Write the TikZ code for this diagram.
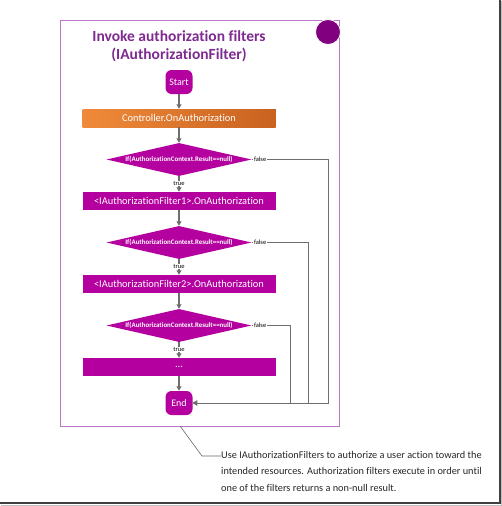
\documentclass[tikz,border=0pt]{standalone}
\usepackage{fontspec}
\setmainfont{Carlito}[Ligatures=NoCommon]
\usetikzlibrary{arrows.meta,positioning,shapes.geometric,chains}
\definecolor{filtermagenta}{HTML}{B4009E}
\definecolor{titlepurple}{HTML}{7E2A90}
\definecolor{panelpurple}{HTML}{B878C6}
\definecolor{badgepurple}{HTML}{800080}
\definecolor{flowgray}{HTML}{6E6E6E}
\definecolor{ctrlorange}{HTML}{F08A3A}
\definecolor{ctrldark}{HTML}{C8621F}

\begin{document}
\begin{tikzpicture}[%
    x=1pt, y=-1pt,              % work in pixels of the reference
    >={Triangle[length=4.5pt,width=5pt]},
    start chain=going below,    % the flow runs top to bottom
    node distance=41.5pt,       % centre to centre, boxes are on grid
    every join/.style={flow},
    ]

\tikzset{
  base/.style={on grid, on chain, align=center, text=white, inner sep=0pt},
  proc/.style={base, rectangle, minimum width=193pt, minimum height=18pt,
    fill=filtermagenta, font=\fontsize{10.4}{12}\selectfont},
  ctrl/.style={proc, left color=ctrlorange, right color=ctrldark},
  test/.style={base, diamond, aspect=4.4, minimum width=145pt, minimum height=33pt,
    fill=filtermagenta, font=\bfseries\fontsize{6.9}{8}\selectfont},
  term/.style={base, rectangle, rounded corners=6pt, minimum width=27pt,
    minimum height=24pt, fill=filtermagenta, font=\fontsize{10}{12}\selectfont},
  % labels sitting on the connectors
  lbl/.style={fill=white, inner sep=0.6pt, font=\fontsize{6.5}{7}\selectfont},
  % -------------------------------------------------
  flow/.style={->, draw=flowgray, line width=1.1pt},
  back/.style={->, draw=flowgray, line width=0.7pt},
  callout/.style={draw=black!60, line width=0.6pt},
  title/.style={align=center, text=titlepurple, font=\bfseries\fontsize{15.5}{18}\selectfont}
}

  \useasboundingbox (0,0) rectangle (502,506);

  % panel and its badge
  \draw [panelpurple, line width=1pt] (60,20) rectangle (339,426);
  \node [circle, fill=badgepurple, draw=white, line width=0.8pt, minimum size=25pt,
    inner sep=0pt] (badge) at (328,32) {};
  \node [title] (heading) at (179,46) {Invoke authorization filters\\(IAuthorizationFilter)};

  \begin{scope}

    \node [term] (start) at (179,82) {Start};

    \node [ctrl, below=36pt of start, join] (ctrl) {Controller.OnAuthorization};

    \node [test, join] (test1) {If(AuthorizationContext.Result==null)};

    \node [proc, join] (filter1) {<IAuthorizationFilter1>.OnAuthorization};
      \path (test1.south) to node [lbl, pos=0.45] {true} (filter1.north);

    \node [test, join] (test2) {If(AuthorizationContext.Result==null)};

    \node [proc, join] (filter2) {<IAuthorizationFilter2>.OnAuthorization};
      \path (test2.south) to node [lbl, pos=0.45] {true} (filter2.north);

    \node [test, join] (test3) {If(AuthorizationContext.Result==null)};

    \node [proc, join] (more) {...};
      \path (test3.south) to node [lbl, pos=0.45] {true} (more.north);

    \node [term, below=36pt of more, join] (end) {End};

    % false branches all run back into End
    \path (test1.east) ++(77pt,0) coordinate (ret1);
    \path (test2.east) ++(57pt,0) coordinate (ret2);
    \path (test3.east) ++(39pt,0) coordinate (ret3);
      \draw [back] (test1.east) -- (ret1) |- (end.east);
      \draw [back] (test2.east) -- (ret2) |- (end.east);
      \draw [back] (test3.east) -- (ret3) |- (end.east);
    \node [lbl, right=1.5pt of test1.east] {false};
    \node [lbl, right=1.5pt of test2.east] {false};
    \node [lbl, right=1.5pt of test3.east] {false};
  \end{scope}

  % note below the panel
  \node [align=left, anchor=north west, inner sep=0pt, text=black!85,
    font=\fontsize{10.3}{16.5}\selectfont] (note) at (221,451)
    {Use IAuthorizationFilters to authorize a user action toward the\\
     intended resources. Authorization filters execute in order until\\
     one of the filters returns a non-null result.};
  \coordinate (tail) at (180,426);
  \coordinate (elbow) at (202,456);
    \draw [callout] (tail) -- (elbow) -- (elbow -| note.west);

  % shadow edge of the page
  \draw [black!75, line width=2pt] (0,503) -- (500,503) -- (500,0);
  \draw [black!25, line width=1pt] (1,505.5) -- (501.5,505.5) -- (501.5,1);
\end{tikzpicture}
\end{document}
